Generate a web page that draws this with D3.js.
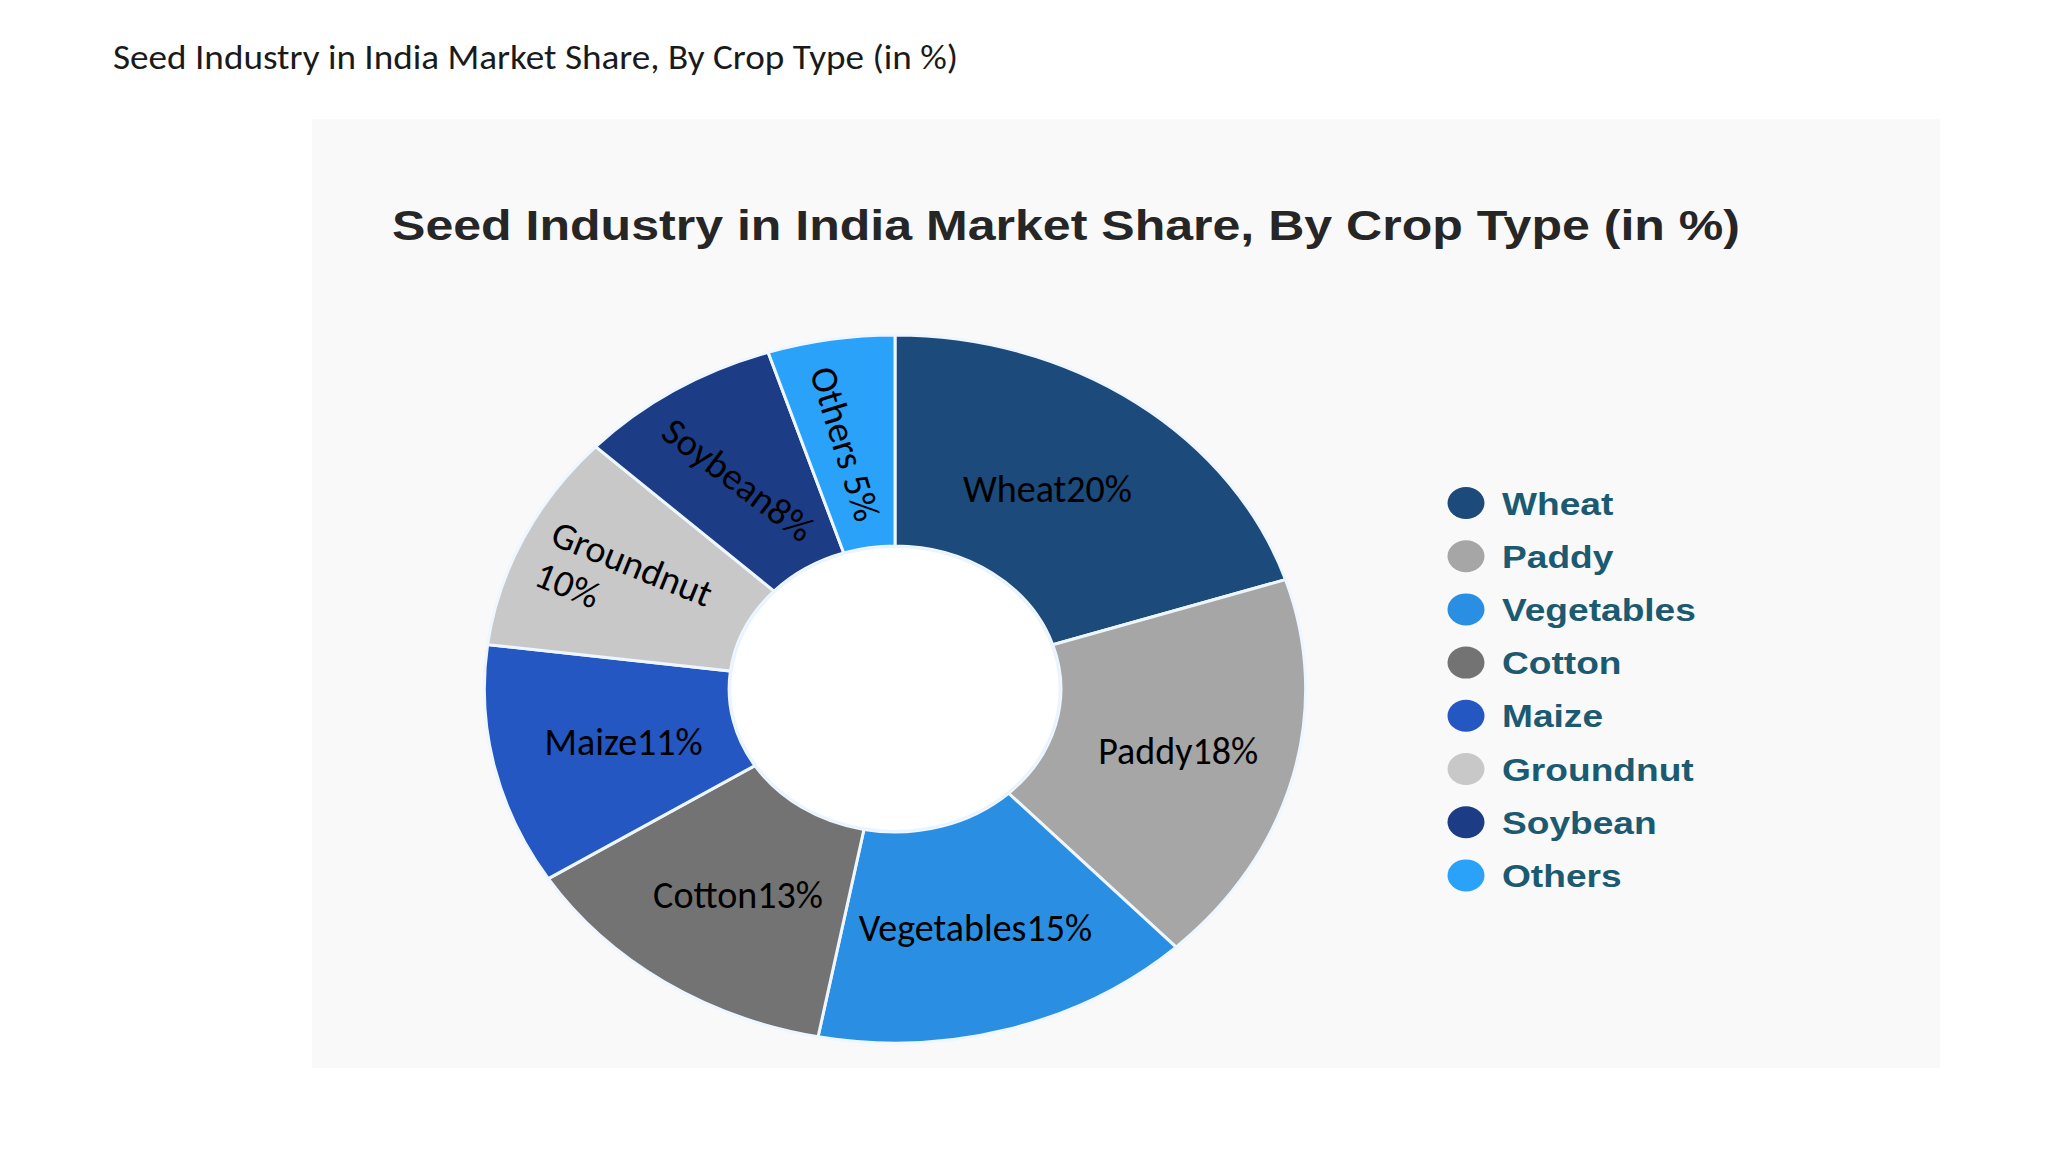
<!DOCTYPE html>
<html>
<head>
<meta charset="utf-8">
<script src="https://cdn.jsdelivr.net/npm/d3@7"></script>
<style>
  html, body { margin: 0; padding: 0; background: #ffffff; }
  svg { display: block; }
</style>
</head>
<body>
<svg id="chart" width="2048" height="1152"></svg>
<script>
// ---- data ----
const categories = ["Wheat", "Paddy", "Vegetables", "Cotton", "Maize", "Groundnut", "Soybean", "Others"];
const shares = [20, 18, 15, 13, 11, 10, 8, 5];
const sliceLabels = ["Wheat20%", "Paddy18%", "Vegetables15%", "Cotton13%", "Maize11%", "Groundnut\n10%", "Soybean8%", "Others 5%"];
const colors = ["#1b4a7b", "#a6a6a6", "#2a8fe2", "#737373", "#2457c1", "#c8c8c8", "#1c3d86", "#2aa2fa"];
const pageTitle = "Seed Industry in India Market Share, By Crop Type (in %)";
const chartTitle = "Seed Industry in India Market Share, By Crop Type (in %)";

// ---- layout ----
const W = 2048, H = 1152;
const cx = 895, cy = 689, sx = 1.16;
const rOuter = 354, rInner = 143;
const labelRotation = [0, 0, 0, 0, 0, 22, 37, 73];
const labelShift = [[-17, 0], [4, 0], [0, 0], [5, 0], [10, -2], [-10, 0], [-2, 0], [-4, 0]];

const svg = d3.select("#chart");

// page title
svg.append("text")
  .attr("x", 113).attr("y", 69)
  .attr("font-family", "Carlito, Calibri, Lato, sans-serif")
  .attr("font-size", 35)
  .attr("fill", "#1a1a1a")
  .attr("textLength", 845)
  .attr("lengthAdjust", "spacingAndGlyphs")
  .text(pageTitle);

// panel
svg.append("rect")
  .attr("x", 312).attr("y", 119)
  .attr("width", 1628).attr("height", 949)
  .attr("fill", "#f9f9f9");

// chart title
svg.append("text")
  .attr("x", 392).attr("y", 240)
  .attr("font-family", "Liberation Sans, Arial, sans-serif")
  .attr("font-weight", "bold")
  .attr("font-size", 42)
  .attr("fill", "#262626")
  .attr("textLength", 1348)
  .attr("lengthAdjust", "spacingAndGlyphs")
  .text(chartTitle);

// donut
const pie = d3.pie().sort(null).value(d => d.v).startAngle(0).endAngle(2 * Math.PI);
const data = categories.map((c, i) => ({ c, v: shares[i], i }));
const arcs = pie(data);
const arc = d3.arc().innerRadius(rInner).outerRadius(rOuter);

const g = svg.append("g").attr("transform", `translate(${cx},${cy}) scale(${sx},1)`);
g.selectAll("path.slice")
  .data(arcs)
  .join("path")
  .attr("class", "slice")
  .attr("d", arc)
  .attr("fill", d => colors[d.data.i])
  .attr("stroke", "#eef6ff")
  .attr("stroke-width", 3)
  .attr("vector-effect", "non-scaling-stroke");

// hole
g.append("circle")
  .attr("r", rInner - 1)
  .attr("fill", "#ffffff")
  .attr("stroke", "#eaf4ff")
  .attr("stroke-width", 2)
  .attr("vector-effect", "non-scaling-stroke");

// slice labels
const labelFont = "Carlito, Calibri, Lato, sans-serif";
const labelSize = 38;
const capH = labelSize * 0.72;
const lineH = 44;
const lg = svg.append("g");
arcs.forEach((d, k) => {
  const [px, py] = arc.centroid(d);
  const x = cx + px * sx + labelShift[k][0], y = cy + py + labelShift[k][1];
  const grp = lg.append("g").attr("transform", `translate(${x},${y}) rotate(${labelRotation[k]})`);
  const lines = sliceLabels[k].split("\n");
  const t = grp.append("text")
    .attr("font-family", labelFont)
    .attr("font-size", labelSize)
    .attr("fill", "#000000");
  if (lines.length === 1) {
    t.attr("text-anchor", "middle").attr("x", 0).attr("y", capH / 2).text(lines[0]);
  } else {
    const tmp = grp.append("text").attr("font-family", labelFont).attr("font-size", labelSize).text(lines[0]);
    const w1 = tmp.node().getComputedTextLength();
    tmp.remove();
    lines.forEach((ln, j) => {
      t.append("tspan")
        .attr("x", -w1 / 2)
        .attr("y", (j - (lines.length - 1) / 2) * lineH + capH / 2)
        .text(ln);
    });
  }
});

// legend
const legX = 1466, legY0 = 503, legStep = 53.2;
const leg = svg.append("g");
categories.forEach((c, i) => {
  const y = legY0 + i * legStep;
  leg.append("ellipse")
    .attr("cx", legX).attr("cy", y)
    .attr("rx", 18.5).attr("ry", 16)
    .attr("fill", colors[i]);
  leg.append("g")
    .attr("transform", `translate(1502,${y + 11.5}) scale(${sx},1)`)
    .append("text")
    .attr("font-family", "Liberation Sans, Arial, sans-serif")
    .attr("font-weight", "bold")
    .attr("font-size", 32)
    .attr("fill", "#1b5a70")
    .text(c);
});
</script>
</body>
</html>
